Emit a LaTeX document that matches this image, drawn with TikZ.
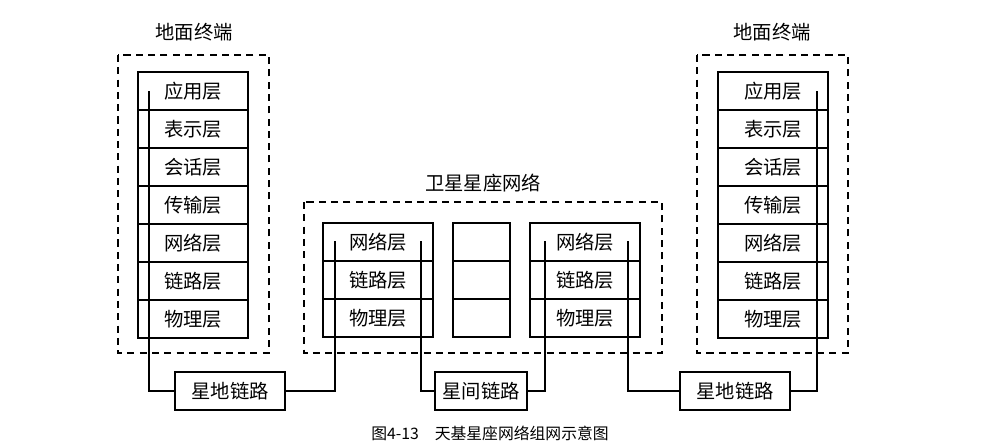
\documentclass[tikz,border=0pt]{standalone}
\usepackage{fontspec}
\newfontfamily\cjk{Noto Sans CJK SC}
\usetikzlibrary{calc}
\tikzset{
  cell/.style={draw,thick,minimum height=38\pxu,inner sep=0pt,font=\cjk\fontsize{11}{13}\selectfont},
  frame/.style={draw,thick,dash pattern=on 4pt off 3pt},
  link/.style={thick}
}
\newlength{\pxu}
\setlength{\pxu}{0.02cm}
\begin{document}
\begin{tikzpicture}[x=0.02cm,y=-0.02cm]
            \useasboundingbox (0,0) rectangle (999,447);
            % ground terminals
            \draw[frame] (118,55) rectangle (269,353);
            \draw[frame] (697,55) rectangle (848,353);
            \node[font=\cjk\fontsize{11}{13}\selectfont] (gl) at (194,32) {地面终端};
            \node[font=\cjk\fontsize{11}{13}\selectfont] (gr) at (772,32) {地面终端};
            \foreach \t [count=\i] in {应用层,表示层,会话层,传输层,网络层,链路层,物理层}{
              \node[cell,minimum width=110\pxu] (l\i) at (193,{53+38*\i}) {\t};
              \node[cell,minimum width=110\pxu] (r\i) at (773,{53+38*\i}) {\t};
            }
            % satellite constellation
            \draw[frame] (304,202) rectangle (662,353);
            \node[font=\cjk\fontsize{11}{13}\selectfont] (sat) at (483,183) {卫星星座网络};
            \foreach \t [count=\i] in {网络层,链路层,物理层}{
              \node[cell,minimum width=110\pxu] (a\i) at (378,{204+38*\i}) {\t};
              \node[cell,minimum width=57\pxu] (b\i) at (481.5,{204+38*\i}) {};
              \node[cell,minimum width=110\pxu] (c\i) at (585,{204+38*\i}) {\t};
            }
            % links
            \node[cell,minimum width=110\pxu] (sg1) at (230,391) {星地链路};
            \node[cell,minimum width=92\pxu] (isl) at (481,391) {星间链路};
            \node[cell,minimum width=110\pxu] (sg2) at (735,391) {星地链路};
            \coordinate (p1) at (149,91);
            \coordinate (p2) at (335,241);
            \coordinate (p3) at (421,241);
            \coordinate (p4) at (545,241);
            \coordinate (p5) at (628,241);
            \coordinate (p6) at (817,91);
            \draw[link] (p1) |- (sg1.west);
            \draw[link] (sg1.east) -| (p2);
            \draw[link] (p3) |- (isl.west);
            \draw[link] (isl.east) -| (p4);
            \draw[link] (p5) |- (sg2.west);
            \draw[link] (sg2.east) -| (p6);
            \node[font=\cjk\fontsize{9}{11}\selectfont] (cap) at (490,433) {图4-13\quad 天基星座网络组网示意图};
\end{tikzpicture}
\end{document}
